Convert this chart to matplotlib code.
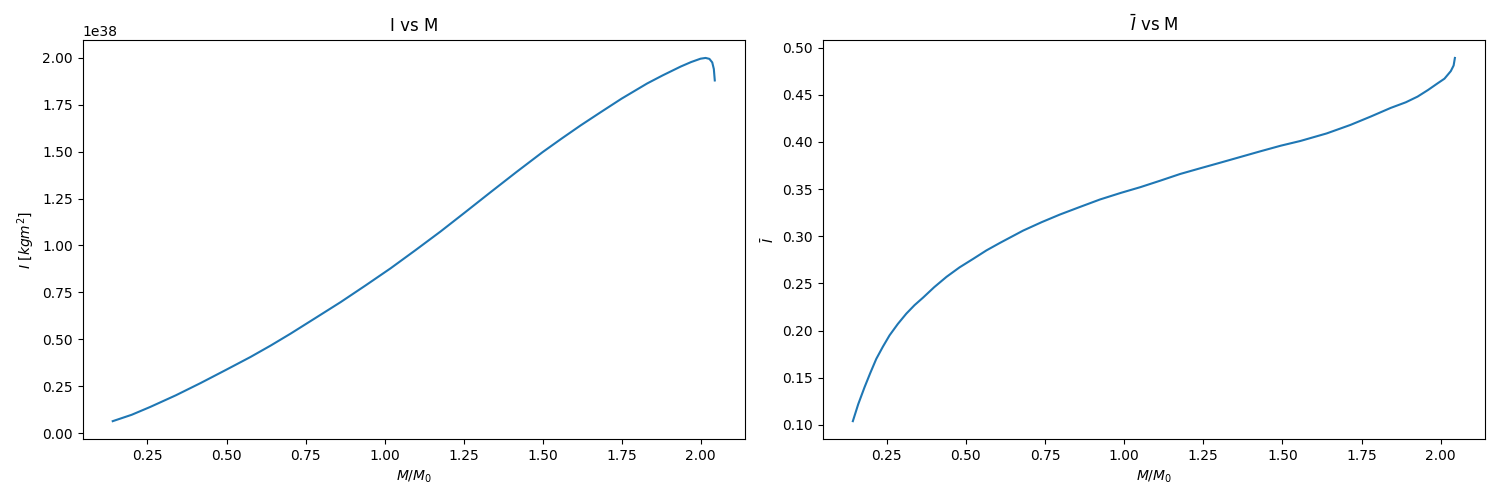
import matplotlib
matplotlib.use("Agg")
import matplotlib.pyplot as plt

# I vs M (I in units of 1e38 kg m^2)
M_I = [0.140, 0.200, 0.259, 0.340, 0.418, 0.497, 0.576, 0.640, 0.7025, 0.780,
       0.861, 0.940, 1.019, 1.098, 1.177, 1.256, 1.335, 1.418, 1.500, 1.560,
       1.620, 1.685, 1.750, 1.831, 1.880, 1.937, 1.970, 2.000, 2.016, 2.028,
       2.037, 2.042, 2.045]
I_vals = [0.064, 0.098, 0.140, 0.202, 0.267, 0.336, 0.406, 0.467, 0.530, 0.612,
          0.698, 0.787, 0.878, 0.975, 1.074, 1.178, 1.283, 1.392, 1.497, 1.569,
          1.639, 1.711, 1.782, 1.863, 1.906, 1.953, 1.977, 1.995, 1.999, 1.994,
          1.975, 1.940, 1.879]

# I_bar vs M
M_b = [0.143, 0.160, 0.180, 0.198, 0.217, 0.238, 0.259, 0.285, 0.312, 0.338,
       0.365, 0.400, 0.439, 0.480, 0.523, 0.565, 0.608, 0.681, 0.740, 0.797,
       0.860, 0.924, 0.990, 1.051, 1.115, 1.177, 1.240, 1.304, 1.367, 1.430,
       1.495, 1.557, 1.640, 1.715, 1.780, 1.842, 1.890, 1.927, 1.960, 1.990,
       2.012, 2.032, 2.041, 2.045]
Ib_vals = [0.104, 0.122, 0.140, 0.155, 0.170, 0.183, 0.195, 0.207, 0.218, 0.227,
           0.235, 0.246, 0.257, 0.267, 0.276, 0.285, 0.293, 0.306, 0.315, 0.323,
           0.331, 0.339, 0.346, 0.352, 0.359, 0.366, 0.372, 0.378, 0.384, 0.390,
           0.396, 0.401, 0.409, 0.418, 0.427, 0.436, 0.442, 0.448, 0.455, 0.462,
           0.467, 0.475, 0.481, 0.489]

fig, axes = plt.subplots(1, 2, figsize=(15, 5), dpi=100)

ax = axes[0]
ax.plot(M_I, [v * 1e38 for v in I_vals], color="#1f77b4")
ax.set_title("I vs M")
ax.set_xlabel(r"$M/M_0$")
ax.set_ylabel(r"$I\ [kgm^2]$")

ax = axes[1]
ax.plot(M_b, Ib_vals, color="#1f77b4")
ax.set_title(r"$\bar{I}$ vs M")
ax.set_xlabel(r"$M/M_0$")
ax.set_ylabel(r"$\bar{I}$")

fig.tight_layout()
fig.savefig("out.png")
